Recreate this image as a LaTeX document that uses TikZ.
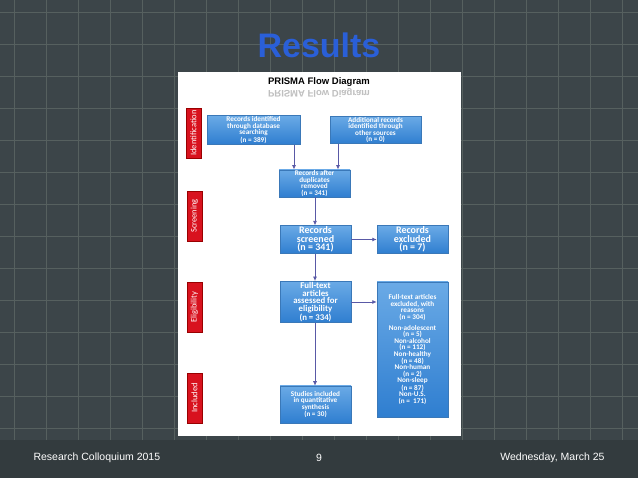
\documentclass[tikz,border=0pt]{standalone}
\usepackage{fontspec}
\setmainfont{Carlito}
\newfontfamily\hdfont{Liberation Sans}
\usetikzlibrary{shadings,arrows.meta}
\definecolor{bg}{HTML}{3C4549}
\definecolor{gridc}{HTML}{56605F}
\definecolor{btop}{HTML}{6AAAE6}
\definecolor{bbot}{HTML}{2F7ED0}
\definecolor{bedge}{HTML}{3A78B8}
\definecolor{redb}{HTML}{D8121E}
\definecolor{ttl}{HTML}{2A5FD8}
\tikzset{
  bx/.style={draw=bedge,line width=0.5pt,top color=btop,bottom color=bbot,text=white,align=center,inner sep=1pt,font=\fontsize{7.2}{6.4}\selectfont\bfseries},
  bigbx/.style={bx,font=\fontsize{10}{8.6}\selectfont\bfseries},
  phase/.style={fill=redb,draw=red!60!black,line width=0.4pt,minimum width=15pt,minimum height=50pt,inner sep=0pt},
  phtxt/.style={rotate=90,text=white,font=\fontsize{8.5}{8.5}\selectfont},
  arr/.style={draw=gray!70!blue,line width=0.8pt,-{Latex[length=4.5pt,width=4pt]}},
  foot/.style={text=white,font=\hdfont\fontsize{10.5}{10.5}\selectfont}
}
\begin{document}
\begin{tikzpicture}[x=1pt,y=-1pt]
\fill[bg] (0,0) rectangle (638,478);
\useasboundingbox (0,0) rectangle (638,478);
\foreach \x in {14,46,...,638} \draw[gridc,line width=0.6pt] (\x,0) -- (\x,478);
\foreach \y in {12,44,...,478} \draw[gridc,line width=0.6pt] (0,\y) -- (638,\y);
\fill[bg!85!black] (0,440) rectangle (638,478);
% title
\node (title) [text=ttl,font=\hdfont\bfseries\fontsize{34}{34}\selectfont] at (319,45) {Results};
% panel
\fill[white] (178,72) rectangle (461,436);
\node (pt) [font=\hdfont\bfseries\fontsize{9.5}{9.5}\selectfont] at (319,82) {PRISMA Flow Diagram};
\node (pr) [yscale=-1,text=black!25,font=\hdfont\bfseries\fontsize{9.5}{9.5}\selectfont] at (319,93) {PRISMA Flow Diagram};
% phases
\node (p1) [phase] at (193.5,133) {}; \node[phtxt] at (p1) {Identification};
\node (p2) [phase] at (194.5,216) {}; \node[phtxt] at (p2) {Screening};
\node (p3) [phase] at (194.5,307) {}; \node[phtxt] at (p3) {Eligibility};
\node (p4) [phase] at (194.5,398) {}; \node[phtxt] at (p4) {Included};
% boxes
\node (b1) [bx,minimum width=93pt,minimum height=26pt] at (253.5,130) {Records identified\\through database\\searching\\(n = 389)};
\node (b2) [bx,minimum width=91pt,minimum height=26pt] at (375.5,130) {Additional records\\identified through\\other sources\\(n = 0)};
\node (b3) [bx,minimum width=71pt,minimum height=27pt] at (314.5,183.5) {Records after\\duplicates\\removed\\(n = 341)};
\node (b4) [bigbx,minimum width=71pt,minimum height=27pt] at (315.5,239.5) {Records\\screened\\(n = 341)};
\node (b5) [bigbx,minimum width=71pt,minimum height=27pt] at (412.5,239.5) {Records\\excluded\\(n = 7)};
\node (b6) [bx,font=\fontsize{8.8}{7.6}\selectfont\bfseries,minimum width=71pt,minimum height=40pt] at (315.5,302) {Full-text\\articles\\assessed for\\eligibility\\(n = 334)};
\node (b7) [bx,minimum width=71pt,minimum height=135pt] at (412.5,349.5) {Full-text articles\\excluded, with\\reasons\\(n = 304)\\[5pt]Non-adolescent\\(n = 5)\\Non-alcohol\\(n = 112)\\Non-healthy\\(n = 48)\\Non-human\\(n = 2)\\Non-sleep\\(n = 87)\\Non-U.S.\\(n =~ 171)};
\node (b8) [bx,minimum width=71pt,minimum height=37pt] at (315.5,404.5) {Studies included\\in quantitative\\synthesis\\(n = 30)};
% arrows
\draw[arr] (b1.south -| 294,0) -- (b3.north -| 294,0);
\draw[arr] (b2.south -| 338,0) -- (b3.north -| 338,0);
\draw[arr] (b3.south -| 315,0) -- (b4.north -| 315,0);
\draw[arr] (b4.east) -- (b5.west);
\draw[arr] (b4.south -| 315,0) -- (b6.north -| 315,0);
\draw[arr] (b6.east) -- (b7.west |- b6.east);
\draw[arr] (b6.south -| 315,0) -- (b8.north -| 315,0);
% footer
\node (f1) [foot,anchor=west] at (30,458) {Research Colloquium 2015};
\node (f2) [foot] at (319,458) {9};
\node (f3) [foot,anchor=east] at (608,458) {Wednesday, March 25};
\end{tikzpicture}
\end{document}
